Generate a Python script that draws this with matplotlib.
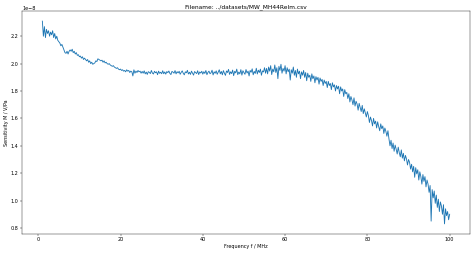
import numpy as np
import matplotlib
matplotlib.use("Agg")
import matplotlib.pyplot as plt

# sensitivity (units of 1e-8 V/Pa), 1 .. 100 MHz in 0.25 MHz steps
sens = [
    # 1 - 5 MHz
    2.31, 2.20, 2.27, 2.19, 2.25, 2.22, 2.24, 2.20, 2.23, 2.21, 2.24, 2.19, 2.22, 2.18, 2.20, 2.17, 2.16,
    # 5 - 10
    2.15, 2.13, 2.14, 2.12, 2.10, 2.08, 2.075, 2.09, 2.07, 2.09, 2.10, 2.09, 2.105, 2.08, 2.09, 2.07, 2.08, 2.06, 2.065, 2.05,
    # 10 - 15
    2.055, 2.04, 2.05, 2.03, 2.04, 2.03, 2.02, 2.03, 2.01, 2.02, 2.00, 2.01, 1.995, 2.00, 2.005, 2.02, 2.015, 2.035, 2.03, 2.025,
    # 15 - 20
    2.02, 2.025, 2.01, 2.02, 2.005, 2.01, 2.00, 1.995, 2.00, 1.99, 1.985, 1.98, 1.985, 1.975, 1.97, 1.965, 1.97, 1.96, 1.955, 1.96,
    # 20 - 25
    1.95, 1.955, 1.945, 1.95, 1.94, 1.955, 1.945, 1.95, 1.935, 1.945, 1.94, 1.91, 1.955, 1.93, 1.945, 1.935, 1.95, 1.94, 1.945, 1.93,
    # 25 - 30
    1.943, 1.930, 1.947, 1.925, 1.938, 1.921, 1.941, 1.936, 1.927, 1.950, 1.931, 1.924, 1.944, 1.933, 1.940, 1.919, 1.945, 1.929, 1.937, 1.926,
    # 30 - 35
    1.948, 1.926, 1.939, 1.923, 1.942, 1.934, 1.946, 1.928, 1.920, 1.943, 1.938, 1.930, 1.949, 1.925, 1.941, 1.932, 1.944, 1.922, 1.936, 1.947,
    # 35 - 40
    1.929, 1.918, 1.940, 1.933, 1.951, 1.924, 1.937, 1.921, 1.945, 1.930, 1.916, 1.942, 1.935, 1.927, 1.948, 1.920, 1.939, 1.931, 1.944, 1.923,
    # 40 - 45
    1.941, 1.928, 1.950, 1.919, 1.936, 1.945, 1.926, 1.933, 1.952, 1.917, 1.940, 1.929, 1.947, 1.922, 1.938, 1.955, 1.925, 1.943, 1.918, 1.949,
    # 45 - 50
    1.930, 1.914, 1.946, 1.935, 1.958, 1.921, 1.940, 1.927, 1.953, 1.912, 1.944, 1.932, 1.960, 1.919, 1.938, 1.925, 1.956, 1.916, 1.948, 1.934,
    # 50 - 55
    1.922, 1.957, 1.931, 1.945, 1.910, 1.950, 1.937, 1.962, 1.918, 1.943, 1.928, 1.966, 1.924, 1.952, 1.935, 1.960, 1.915, 1.947, 1.939, 1.970,
    # 55 - 60
    1.930, 1.965, 1.925, 1.975, 1.945, 1.985, 1.920, 1.960, 1.940, 1.990, 1.935, 1.970, 1.890, 1.980, 1.950, 1.995, 1.930, 1.965, 1.945, 1.985,
    # 60 - 65
    1.925, 1.970, 1.940, 1.960, 1.880, 1.955, 1.930, 1.975, 1.915, 1.950, 1.900, 1.960, 1.925, 1.945, 1.890, 1.940, 1.915, 1.950, 1.900, 1.935,
    # 65 - 70
    1.875, 1.930, 1.900, 1.915, 1.870, 1.925, 1.890, 1.910, 1.860, 1.905, 1.880, 1.900, 1.850, 1.895, 1.870, 1.885, 1.840, 1.880, 1.855, 1.870,
    # 70 - 75
    1.825, 1.870, 1.840, 1.855, 1.810, 1.860, 1.830, 1.845, 1.800, 1.840, 1.815, 1.835, 1.780, 1.830, 1.800, 1.815, 1.760, 1.810, 1.780, 1.790,
    # 75 - 80
    1.745, 1.780, 1.720, 1.760, 1.735, 1.700, 1.750, 1.690, 1.725, 1.705, 1.660, 1.710, 1.680, 1.650, 1.695, 1.635, 1.670, 1.640, 1.610, 1.650,
    # 80 - 85
    1.620, 1.570, 1.610, 1.585, 1.545, 1.600, 1.560, 1.580, 1.530, 1.575, 1.540, 1.510, 1.560, 1.525, 1.545, 1.490, 1.530, 1.505, 1.470, 1.510,
    # 85 - 90
    1.450, 1.400, 1.440, 1.380, 1.420, 1.360, 1.405, 1.375, 1.340, 1.390, 1.350, 1.320, 1.370, 1.310, 1.345, 1.290, 1.330, 1.305, 1.260, 1.300,
    # 90 - 95
    1.280, 1.230, 1.265, 1.210, 1.250, 1.170, 1.240, 1.195, 1.225, 1.150, 1.210, 1.175, 1.120, 1.190, 1.140, 1.175, 1.100, 1.150, 1.120, 1.060,
    # 95 - 100
    1.110, 0.850, 1.080, 1.020, 1.070, 0.980, 1.040, 0.950, 1.010, 0.920, 0.990, 0.960, 0.900, 0.970, 0.830, 0.940, 0.890, 0.920, 0.860, 0.900,
]
f_start, f_stop = 1.0, 100.0

freq = np.linspace(f_start, f_stop, len(sens))
M = np.array(sens) * 1e-8

W = 13.5
fig = plt.figure(figsize=(W, W * 253 / 474), dpi=474 / W)
ax = fig.add_subplot(111)
fig.subplots_adjust(left=0.0464, right=0.9916, top=0.9565, bottom=0.0751)

ax.plot(freq, M, linewidth=1.8)

ax.set_title('Filename: ../datasets/MW_MH44ReIm.csv', fontsize=12)
ax.set_xlabel('Frequency f / MHz')
ax.set_ylabel('Sensitivity M / V/Pa')

fig.savefig('out.png', dpi=474 / W)
